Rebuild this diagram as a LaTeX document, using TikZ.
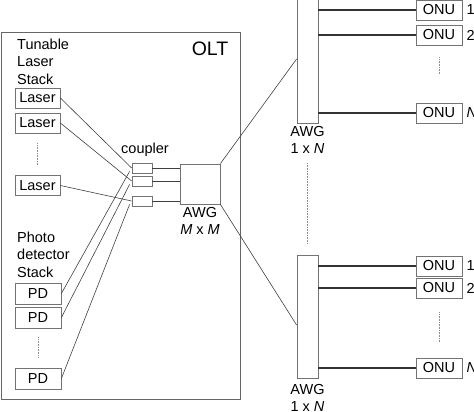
\documentclass[tikz,border=0pt]{standalone}
\usepackage{fontspec}
\setmainfont{Liberation Sans}
\usetikzlibrary{positioning,calc}

\begin{document}
\begin{tikzpicture}[x=1pt, y=-1pt,
    box/.style={draw=black!55, line width=0.8pt, inner sep=0pt, font=\fontsize{14.5}{17.5}\selectfont},
    lbl/.style={inner sep=0pt, align=left, font=\fontsize{14.5}{17.5}\selectfont},
    fibre/.style={black!75, line width=0.6pt},
    drop/.style={black!80, line width=1.3pt},
    dots/.style={black!45, densely dotted, line width=0.6pt}]
    \useasboundingbox (0,0) rectangle (474,412);

    % OLT frame
    \node[box, draw=black!60, minimum width=239, minimum height=367] (olt) at (120.5,215.5) {};
    \node[anchor=base, inner sep=0pt, font=\fontsize{19.5}{20}\selectfont] (oltlbl) at (210,56) {OLT};

    % Laser stack
    \node[lbl, anchor=north west] (laserlbl) at (17,38.5) {Tunable\\Laser\\Stack};
    \node[box, minimum width=45, minimum height=20] (laser1) at (37.5,98) {Laser};
    \node[box, minimum width=45, minimum height=20] (laser2) at (37.5,123) {Laser};
    \node[box, minimum width=45, minimum height=20] (laser3) at (37.5,185.5) {Laser};
    \draw[dots] ($(laser2.south)+(0,10)$) -- ($(laser3.north)+(0,-10)$);

    % Photo detector stack
    \node[lbl, anchor=north west] (pdlbl) at (17,231.5) {Photo\\detector\\Stack};
    \node[box, minimum width=46, minimum height=21] (pd1) at (38,293.5) {PD};
    \node[box, minimum width=46, minimum height=21] (pd2) at (38,317.5) {PD};
    \node[box, minimum width=46, minimum height=21] (pd3) at (38,378.5) {PD};
    \draw[dots] ($(pd2.south)+(0,9)$) -- ($(pd3.north)+(0,-10)$);

    % Couplers
    \node[lbl, anchor=base] (cplbl) at (145,153) {coupler};
    \node[box, minimum width=20, minimum height=10] (cp1) at (142,168) {};
    \node[box, minimum width=20, minimum height=10] (cp2) at (142,181) {};
    \node[box, minimum width=20, minimum height=10] (cp3) at (142,201) {};

    % AWG M x M
    \node[box, minimum width=40, minimum height=40] (awgM) at (200,184) {};
    \node[lbl, anchor=north, align=center] (awgMlbl) at (200,207) {AWG\\\textit{M} x \textit{M}};

    % Fibres inside the OLT
    \draw[fibre] (laser1.east) -- (cp1.west);
    \draw[fibre] (laser2.east) -- (cp2.west);
    \draw[fibre] (laser3.east) -- (cp3.west);
    \draw[fibre] (pd1.east) -- ($(cp1.south west)+(-2,-2)$);
    \draw[fibre] (pd2.east) -- ($(cp2.south west)+(-2,-2)$);
    \draw[fibre] (pd3.east) -- ($(cp3.south west)+(-2,-2)$);
    \foreach \c in {cp1,cp2,cp3}
        \draw[fibre, line width=0.9pt] (\c.east) -- (\c.east -| awgM.west);

    % AWG 1 x N, upper
    \node[box, minimum width=21, minimum height=128] (awgU) at (307.5,59) {};
    \node[lbl, anchor=north, align=center] (awgUlbl) at (307.5,126) {AWG\\1 x \textit{N}};
    \node[box, minimum width=46, minimum height=20] (onuU1) at (439,10) {ONU};
    \node[box, minimum width=46, minimum height=20] (onuU2) at (439,35) {ONU};
    \node[box, minimum width=46, minimum height=20] (onuUN) at (439,113) {ONU};
    \node[lbl, right=4pt of onuU1] (nU1) {1};
    \node[lbl, right=4pt of onuU2] (nU2) {2};
    \node[lbl, right=4pt of onuUN] (nUN) {\textit{N}};
    \foreach \o in {onuU1,onuU2,onuUN}
        \draw[drop] (awgU.east |- \o) -- (\o.west);
    \draw[dots] ($(onuU2.south)+(0,12)$) -- ($(onuUN.north)+(0,-28)$);

    % AWG 1 x N, lower
    \node[box, minimum width=21, minimum height=123] (awgL) at (307.5,316.5) {};
    \node[lbl, anchor=north, align=center] (awgLlbl) at (307.5,384) {AWG\\1 x \textit{N}};
    \node[box, minimum width=46, minimum height=20] (onuL1) at (439,266) {ONU};
    \node[box, minimum width=46, minimum height=20] (onuL2) at (439,288) {ONU};
    \node[box, minimum width=46, minimum height=20] (onuLN) at (439,368) {ONU};
    \node[lbl, right=4pt of onuL1] (nL1) {1};
    \node[lbl, right=4pt of onuL2] (nL2) {2};
    \node[lbl, right=4pt of onuLN] (nLN) {\textit{N}};
    \foreach \o in {onuL1,onuL2,onuLN}
        \draw[drop] (awgL.east |- \o) -- (\o.west);
    \draw[dots] ($(onuL2.south)+(0,14)$) -- ($(onuLN.north)+(0,-15)$);

    % Feeders
    \draw[dots] ($(awgUlbl.south)+(0,9)$) -- ($(awgL.north)+(0,-10)$);
    \draw[fibre] (awgM.north east) -- (awgU.west);
    \draw[fibre] (awgM.south east) -- ($(awgL.west)+(0,8.5)$);
\end{tikzpicture}
\end{document}
